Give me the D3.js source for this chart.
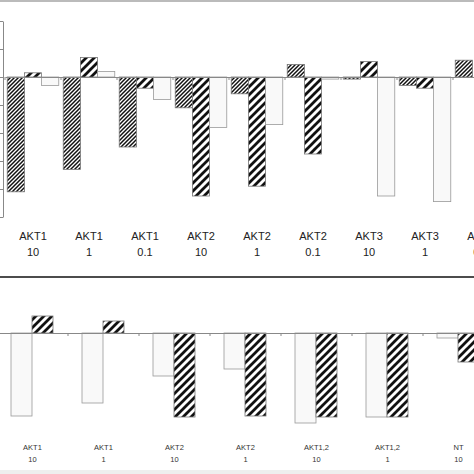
<!DOCTYPE html><html><head><meta charset="utf-8"><script src="https://cdn.jsdelivr.net/npm/d3@7"></script>
<style>body{margin:0;background:#fff}svg{display:block}</style></head><body><svg id="c" width="474" height="474"></svg>
<script>
const topGroups=["AKT1|10","AKT1|1","AKT1|0.1","AKT2|10","AKT2|1","AKT2|0.1","AKT3|10","AKT3|1","AKT3|0.1"];
const topFine=[-82,-66,-50,-22,-12,9,-1.5,-6,12];
const topBold=[3,14,-8,-85,-78,-55,11,-8,0];
const topOpen=[-6,4,-16,-36,-34,-1.5,-85,-89,0];
const topTicks=[40,20,0,-20,-40,-60,-80,-100];
const botGroups=["AKT1|10","AKT1|1","AKT2|10","AKT2|1","AKT1,2|10","AKT1,2|1","NT|10"];
const botOpen=[-83,-70,-43,-36,-90,-84,-5];
const botBold=[17,12,-84,-83,-84,-84,-29];

const svg=d3.select("#c");
const defs=svg.append("defs");
function pat(id,sp,sw){const p=defs.append("pattern").attr("id",id).attr("patternUnits","userSpaceOnUse").attr("width",sp).attr("height",sp);
p.append("rect").attr("width",sp).attr("height",sp).attr("fill","#fff");
p.append("path").attr("d",`M0,${sp} L${sp},0 M${-sp/2},${sp/2} L${sp/2},${-sp/2} M${sp/2},${sp*1.5} L${sp*1.5},${sp/2}`).attr("stroke","#111").attr("stroke-width",sw);}
pat("fine",4,1.5);pat("bold",8,2.8);

svg.append("rect").attr("x",0).attr("y",0).attr("width",474).attr("height",2).attr("fill","#bbb");
svg.append("rect").attr("x",0).attr("y",470).attr("width",474).attr("height",4).attr("fill","#eee");
svg.append("line").attr("x1",0).attr("x2",474).attr("y1",277).attr("y2",277).attr("stroke","#111").attr("stroke-width",1.5);

// top panel
const yT=d3.scaleLinear().domain([-100,40]).range([217,21]);
const xT=d3.scaleBand().domain(topGroups).range([5,509]);
const xTi=d3.scaleBand().domain(["f","b","o"]).range([0,xT.bandwidth()]).paddingOuter(0.13).paddingInner(0);
svg.append("g").attr("transform","translate(3,0)").call(d3.axisLeft(yT).tickValues(topTicks).tickSize(3).tickFormat("").tickSizeOuter(0)).call(g=>g.selectAll("line,path").attr("stroke","#888"));
const gT=svg.append("g");
topGroups.forEach((gname,i)=>{
 const x0=xT(gname);
 [["f",topFine[i],"url(#fine)"],["b",topBold[i],"url(#bold)"],["o",topOpen[i],"#f9f9f9"]].forEach(([k,v,f])=>{
  if(v===0)return;
  gT.append("rect").attr("x",x0+xTi(k)).attr("width",xTi.bandwidth()).attr("y",yT(Math.max(0,v))).attr("height",Math.abs(yT(v)-yT(0))).attr("fill",f).attr("stroke",k==="o"?"#999":"#777").attr("stroke-width",0.8);
 });
 const [a,b]=gname.split("|");
 const cx=x0+xT.bandwidth()/2;
 svg.append("text").attr("x",cx).attr("y",240).attr("text-anchor","middle").attr("font-family","Liberation Sans, Arial").attr("font-size",11).attr("fill","#222").text(a);
 svg.append("text").attr("x",cx).attr("y",256).attr("text-anchor","middle").attr("font-family","Liberation Sans, Arial").attr("font-size",11).attr("fill","#222").text(b);
});
svg.append("g").attr("transform",`translate(0,${yT(0)})`).call(d3.axisBottom(xT).tickSize(3).tickFormat("").tickSizeOuter(0)).call(g=>g.selectAll("line,path").attr("stroke","#888")).call(g=>g.selectAll(".tick").attr("transform",d=>`translate(${xT(d)},0)`));

// bottom panel
const yB=d3.scaleLinear().domain([-100,40]).range([433,333-40]);
const xB=d3.scaleBand().domain(botGroups).range([-3,494]);
const xBi=d3.scaleBand().domain(["o","b"]).range([14,56]);
const gB=svg.append("g");
botGroups.forEach((gname,i)=>{
 const x0=xB(gname);
 [["o",botOpen[i],"#f9f9f9"],["b",botBold[i],"url(#bold)"]].forEach(([k,v,f])=>{
  gB.append("rect").attr("x",x0+xBi(k)).attr("width",xBi.bandwidth()).attr("y",yB(Math.max(0,v))).attr("height",Math.abs(yB(v)-yB(0))).attr("fill",f).attr("stroke",k==="o"?"#999":"#777").attr("stroke-width",0.8);
 });
 const [a,b]=gname.split("|");
 const cx=x0+xB.bandwidth()/2;
 svg.append("text").attr("x",cx).attr("y",450).attr("text-anchor","middle").attr("font-family","Liberation Sans, Arial").attr("font-size",7.5).attr("fill","#333").text(a);
 svg.append("text").attr("x",cx).attr("y",462).attr("text-anchor","middle").attr("font-family","Liberation Sans, Arial").attr("font-size",7.5).attr("fill","#333").text(b);
});
svg.append("g").attr("transform",`translate(0,${yB(0)})`).call(d3.axisBottom(xB).tickSize(3).tickFormat("").tickSizeOuter(0)).call(g=>g.selectAll("line,path").attr("stroke","#888")).call(g=>g.selectAll(".tick").attr("transform",d=>`translate(${xB(d)},0)`));
</script></body></html>
